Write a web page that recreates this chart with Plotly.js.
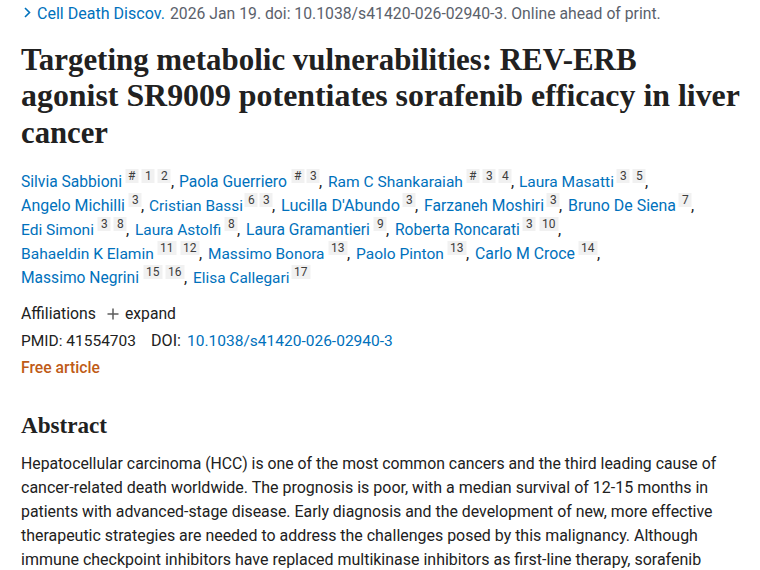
<!DOCTYPE html>
<html><head><meta charset="utf-8">
<script src="https://cdn.plot.ly/plotly-3.0.1.min.js"></script>
<style>html,body{margin:0;padding:0;background:#fff}#p{width:760px;height:570px}</style></head>
<body><div id="p"></div>
<script>
const SANS = 'Roboto, "Open Sans", sans-serif';
const SERIF = '"Liberation Serif", serif';
const BLUE = '#0071bc', DARK = '#212121', GREY = '#5b616b', ORANGE = '#bf5b17';

const citationParts = ['Cell Death Discov.', '2026 Jan 19. doi: 10.1038/s41420-026-02940-3. Online ahead of print.'];
const titleLines = ['Targeting metabolic vulnerabilities: REV-ERB', 'agonist SR9009 potentiates sorafenib efficacy in liver', 'cancer'];
const authorNames = [
 ['Silvia Sabbioni','Paola Guerriero','Ram C Shankaraiah','Laura Masatti'],
 ['Angelo Michilli','Cristian Bassi',"Lucilla D'Abundo",'Farzaneh Moshiri','Bruno De Siena'],
 ['Edi Simoni','Laura Astolfi','Laura Gramantieri','Roberta Roncarati'],
 ['Bahaeldin K Elamin','Massimo Bonora','Paolo Pinton','Carlo M Croce'],
 ['Massimo Negrini','Elisa Callegari']];
const authorSpans = [
 [[21,122],[179,287],[328,463],[519,614]],
 [[21,125],[149,240],[281,400],[424,544],[568,676]],
 [[21,94],[135,221],[246,370],[395,520]],
 [[21,154],[208,324],[356,444],[475,575]],
 [[21,139],[193,288]]];
const badgeLabels = [
 ['#','1','2','#','3','#','3','4','3','5'],
 ['3','6','3','3','3','7'],
 ['3','8','8','9','3','10'],
 ['11','12','13','13','14'],
 ['15','16','17']];
const badgeCentres = [
 [132,148,164,298,313,473,489,505,623,639],
 [135,251,266,409,553,685],
 [104,120,231,380,529,549],
 [167,190,338,457,588],
 [153,175,301]];
const commaX = [[172,320,512,646],[142,273,416,560,692],[127,238,387,559],[200,348,467,598],[185]];
const lineY = [181,205,229,253,277];
const abstractLines = [
 'Hepatocellular carcinoma (HCC) is one of the most common cancers and the third leading cause of',
 'cancer-related death worldwide. The prognosis is poor, with a median survival of 12-15 months in',
 'patients with advanced-stage disease. Early diagnosis and the development of new, more effective',
 'therapeutic strategies are needed to address the challenges posed by this malignancy. Although',
 'immune checkpoint inhibitors have replaced multikinase inhibitors as first-line therapy, sorafenib'];
const abstractEnds = [717,709,713,698,702];
const abstractY = [463,487,511,535,559];

const ctx = document.createElement('canvas').getContext('2d');
function fit(text, family, weight, width){
  ctx.font = weight + ' 100px ' + family;
  return 100 * width / ctx.measureText(text).width;
}
const anns = [], shapes = [];
function put(text, x, y, size, color, family, weight){
  anns.push({text: text, x: x, y: y, xref:'x', yref:'y', xanchor:'left', yanchor:'middle', showarrow:false, align:'left',
    borderpad:0, borderwidth:0, font:{size:size, color:color, family:family||SANS, weight:weight||400}});
}
function putFit(text, x0, x1, y, color, family, weight, minSize, maxSize){
  let s = fit(text, family||SANS, weight||400, x1-x0);
  if (maxSize) s = Math.max(minSize, Math.min(s, maxSize));
  put(text, x0, y, s, color, family, weight);
}
function centre(text, x, y, size, color){
  anns.push({text:text, x:x, y:y, xref:'x', yref:'y', xanchor:'center', yanchor:'middle', showarrow:false,
    borderpad:0, font:{size:size, color:color, family:SANS}});
}

// citation line
shapes.push({type:'path', path:'M 25 8 L 29.5 12.5 L 25 17', line:{color:BLUE, width:1.6}});
putFit(citationParts[0], 37, 165, 13.5, BLUE);
putFit(citationParts[1], 170, 661, 13.5, GREY);
// title
[[0,21,637,59],[1,21,740,95],[2,21,108,133]].forEach(r=>{
  putFit(titleLines[r[0]], r[1], r[2], r[3], DARK, SERIF, 700);
});
// authors
authorNames.forEach((names,i)=>{
  names.forEach((n,j)=>putFit(n, authorSpans[i][j][0], authorSpans[i][j][1], lineY[i]+0.8, BLUE, SANS, 400, 15.4, 16.3));
  commaX[i].forEach(x=>put(',', x-1.5, lineY[i]+0.8, 16, DARK));
  badgeLabels[i].forEach((b,j)=>{
    const cx = badgeCentres[i][j], hw = b.length>1 ? 9.5 : 6.5, y = lineY[i]-5;
    shapes.push({type:'rect', x0:cx-hw, x1:cx+hw, y0:y-7, y1:y+7, fillcolor:'#f1f1f1', line:{width:0}, layer:'below'});
    centre(b, cx, y, 12, '#3d3d3d');
  });
});
// meta rows
putFit('Affiliations', 21, 96, 313.5, DARK);
shapes.push({type:'line', x0:107.5, x1:118.5, y0:314, y1:314, line:{color:'#5c5c5c', width:1.5}});
shapes.push({type:'line', x0:113, x1:113, y0:308.5, y1:319.5, line:{color:'#5c5c5c', width:1.5}});
putFit('expand', 125, 176, 313.5, DARK);
putFit('PMID: 41554703', 21, 136, 340.5, DARK);
putFit('DOI:', 151, 181, 340.5, DARK);
putFit('10.1038/s41420-026-02940-3', 187, 393, 340.5, BLUE);
putFit('Free article', 21, 100, 367.5, ORANGE, SANS, 500);
putFit('Abstract', 21, 107, 425, DARK, SERIF, 700);
abstractLines.forEach((t,i)=>putFit(t, 21, abstractEnds[i], abstractY[i]+0.5, DARK));

Plotly.newPlot('p', [{x:[0,760], y:[0,570], mode:'markers', marker:{opacity:0}, hoverinfo:'skip', showlegend:false}], {
  width:760, height:570, margin:{l:0,r:0,t:0,b:0}, paper_bgcolor:'#fff', plot_bgcolor:'#fff', showlegend:false,
  xaxis:{range:[0,760], visible:false, fixedrange:true},
  yaxis:{range:[570,0], visible:false, fixedrange:true},
  annotations:anns, shapes:shapes
}, {displayModeBar:false, staticPlot:true});
</script></body></html>
